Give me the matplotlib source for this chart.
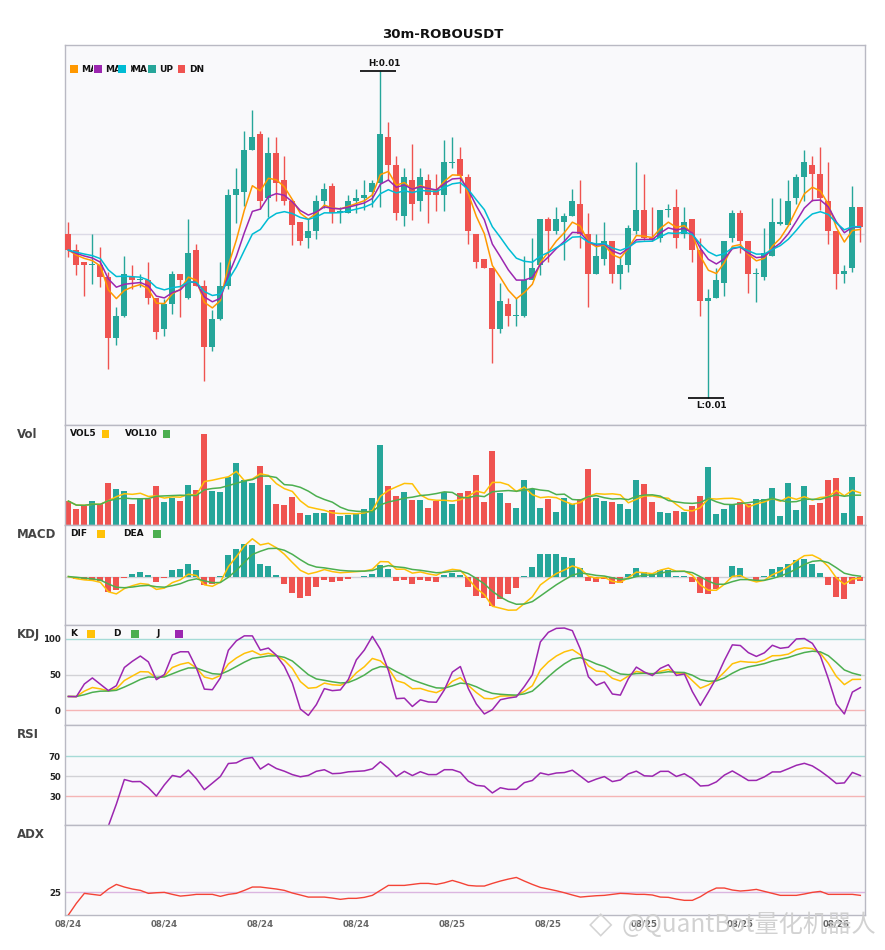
import numpy as np
import pandas as pd
import matplotlib
matplotlib.use("Agg")
import matplotlib.pyplot as plt
from matplotlib.patches import Rectangle

# ---------------- data ----------------
symbol = "30m-ROBOUSDT"
start_time = "2025-08-24 00:00"

open_ = [0.010000, 0.009904, 0.009830, 0.009814, 0.009814, 0.009744, 0.009378, 0.009508, 0.009740, 0.009722,
         0.009724, 0.009618, 0.009430, 0.009578, 0.009760, 0.009614, 0.009904, 0.009688, 0.009324, 0.009490,
         0.009688, 0.010234, 0.010254, 0.010504, 0.010600, 0.010216, 0.010486, 0.010324, 0.010198, 0.010072,
         0.009978, 0.010018, 0.010198, 0.010288, 0.010130, 0.010124, 0.010198, 0.010216, 0.010254, 0.010306,
         0.010582, 0.010414, 0.010108, 0.010324, 0.010198, 0.010324, 0.010268, 0.010234, 0.010428, 0.010450,
         0.010342, 0.010000, 0.009850, 0.009794, 0.009430, 0.009580, 0.009506, 0.009508, 0.009724, 0.009814,
         0.010090, 0.010020, 0.010072, 0.010108, 0.010180, 0.010000, 0.009760, 0.009850, 0.009958, 0.009760,
         0.009814, 0.010020, 0.010144, 0.009978, 0.009974, 0.010142, 0.010160, 0.010000, 0.010090, 0.009904,
         0.009598, 0.009618, 0.009708, 0.009978, 0.010124, 0.009958, 0.009758, 0.009744, 0.009868, 0.010060,
         0.010054, 0.010214, 0.010342, 0.010414, 0.010360, 0.010198, 0.010020, 0.009760, 0.009798, 0.010160]

high = [0.010072, 0.009940, 0.009830, 0.010000, 0.009920, 0.009774, 0.009560, 0.009868, 0.009812, 0.009760,
        0.009830, 0.009618, 0.009608, 0.009780, 0.009760, 0.010090, 0.009940, 0.009724, 0.009544, 0.009830,
        0.010270, 0.010398, 0.010618, 0.010744, 0.010618, 0.010582, 0.010582, 0.010468, 0.010198, 0.010072,
        0.010088, 0.010234, 0.010306, 0.010306, 0.010160, 0.010234, 0.010270, 0.010324, 0.010324, 0.010978,
        0.010672, 0.010468, 0.010396, 0.010540, 0.010396, 0.010360, 0.010360, 0.010564, 0.010582, 0.010522,
        0.010360, 0.010000, 0.009850, 0.009794, 0.009704, 0.009614, 0.009614, 0.009868, 0.009974, 0.010090,
        0.010104, 0.010160, 0.010128, 0.010270, 0.010324, 0.010124, 0.010000, 0.010072, 0.009958, 0.009868,
        0.010054, 0.010430, 0.010360, 0.010160, 0.010144, 0.010180, 0.010270, 0.010160, 0.010090, 0.009974,
        0.009668, 0.009794, 0.009958, 0.010144, 0.010144, 0.009958, 0.009794, 0.010034, 0.010214, 0.010214,
        0.010324, 0.010360, 0.010504, 0.010468, 0.010522, 0.010432, 0.010020, 0.009814, 0.010288, 0.010160]

low = [0.009864, 0.009754, 0.009628, 0.009700, 0.009684, 0.009190, 0.009334, 0.009504, 0.009668, 0.009684,
       0.009578, 0.009370, 0.009390, 0.009520, 0.009504, 0.009608, 0.009688, 0.009120, 0.009298, 0.009484,
       0.009668, 0.010068, 0.010168, 0.010504, 0.010148, 0.010104, 0.010198, 0.010174, 0.009934, 0.009934,
       0.009918, 0.009972, 0.010154, 0.010068, 0.010068, 0.010124, 0.010124, 0.010144, 0.010160, 0.010160,
       0.010324, 0.010084, 0.010050, 0.010084, 0.010138, 0.010068, 0.010138, 0.010138, 0.010394, 0.010248,
       0.009940, 0.009794, 0.009794, 0.009228, 0.009408, 0.009448, 0.009448, 0.009504, 0.009754, 0.009754,
       0.009834, 0.010000, 0.009844, 0.010108, 0.009918, 0.009560, 0.009760, 0.009814, 0.009704, 0.009668,
       0.009774, 0.010000, 0.009964, 0.009958, 0.009954, 0.010104, 0.009918, 0.009974, 0.009830, 0.009508,
       0.009014, 0.009614, 0.009628, 0.009954, 0.009884, 0.009648, 0.009594, 0.009724, 0.009868, 0.010054,
       0.010054, 0.010180, 0.010198, 0.010198, 0.010144, 0.009938, 0.009668, 0.009704, 0.009774, 0.009954]

close = [0.009904, 0.009814, 0.009814, 0.009814, 0.009744, 0.009378, 0.009508, 0.009760, 0.009724, 0.009726,
         0.009618, 0.009414, 0.009578, 0.009760, 0.009724, 0.009886, 0.009688, 0.009324, 0.009490, 0.009688,
         0.010234, 0.010270, 0.010504, 0.010582, 0.010198, 0.010486, 0.010308, 0.010198, 0.010054, 0.009960,
         0.010018, 0.010198, 0.010270, 0.010124, 0.010140, 0.010198, 0.010216, 0.010234, 0.010306, 0.010600,
         0.010414, 0.010128, 0.010342, 0.010180, 0.010342, 0.010234, 0.010234, 0.010432, 0.010432, 0.010348,
         0.010020, 0.009834, 0.009794, 0.009430, 0.009598, 0.009508, 0.009510, 0.009724, 0.009798, 0.010090,
         0.010020, 0.010090, 0.010108, 0.010198, 0.010000, 0.009760, 0.009868, 0.009958, 0.009760, 0.009814,
         0.010034, 0.010144, 0.009978, 0.009964, 0.010144, 0.010146, 0.009978, 0.010072, 0.009904, 0.009598,
         0.009614, 0.009724, 0.009958, 0.010124, 0.009958, 0.009760, 0.009762, 0.009884, 0.010072, 0.010072,
         0.010198, 0.010342, 0.010432, 0.010360, 0.010214, 0.010020, 0.009760, 0.009778, 0.010160, 0.010040]

volume = [70, 46, 56, 70, 60, 124, 106, 100, 61, 76,
          76, 115, 67, 80, 70, 118, 103, 271, 100, 97,
          142, 184, 133, 124, 175, 118, 61, 58, 82, 34,
          28, 34, 34, 43, 25, 28, 31, 46, 79, 238,
          115, 85, 97, 73, 73, 49, 70, 97, 61, 94,
          100, 148, 67, 220, 94, 64, 49, 133, 106, 49,
          76, 37, 79, 61, 76, 166, 80, 70, 67, 61,
          46, 133, 121, 67, 37, 34, 40, 37, 55, 85,
          172, 31, 46, 58, 67, 61, 76, 76, 109, 25,
          124, 43, 115, 58, 64, 133, 139, 34, 142, 25]
volume = [vv * 1000 for vv in volume]

adx = [0.0, 12.9, 23.9, 22.8, 21.7, 28.7, 33.8, 30.9, 28.7, 27.2,
       23.9, 24.6, 25.0, 22.8, 20.9, 21.7, 22.8, 22.8, 22.8, 20.6,
       22.8, 23.9, 27.2, 30.9, 30.9, 29.8, 28.7, 27.2, 24.3, 22.1,
       19.8, 19.8, 19.8, 18.7, 17.3, 18.4, 18.4, 19.5, 21.7, 27.2,
       32.7, 32.7, 32.7, 33.8, 34.9, 34.9, 33.8, 35.6, 38.2, 35.6,
       32.7, 32.0, 32.0, 34.9, 37.5, 39.7, 41.5, 37.5, 33.8, 30.5,
       28.7, 26.8, 24.6, 22.1, 19.8, 20.6, 21.3, 21.7, 22.8, 23.9,
       23.5, 22.8, 22.8, 22.1, 19.8, 19.5, 17.6, 16.2, 16.2, 20.2,
       25.7, 29.8, 29.8, 27.6, 26.5, 27.2, 28.3, 26.1, 23.9, 21.7,
       21.7, 21.7, 23.2, 25.0, 26.1, 22.8, 22.8, 22.8, 22.8, 21.7]

# indicator periods
ma_spans = [5, 8, 13]
vol_windows = [5, 10]
macd_fast, macd_slow, macd_signal = 6, 13, 5
kdj_n = 9
rsi_n = 14

# ---------------- derived indicators ----------------
o = pd.Series(open_); h = pd.Series(high); l = pd.Series(low); c = pd.Series(close)
v = pd.Series(volume)
n = len(c)
x = np.arange(n)
times = pd.date_range(start_time, periods=n, freq="30min")

mas = [c.ewm(span=s, adjust=False).mean() for s in ma_spans]
vol5 = v.rolling(vol_windows[0], min_periods=1).mean()
vol10 = v.rolling(vol_windows[1], min_periods=1).mean()

dif = c.ewm(span=macd_fast, adjust=False).mean() - c.ewm(span=macd_slow, adjust=False).mean()
dea = dif.ewm(span=macd_signal, adjust=False).mean()
hist = 2 * (dif - dea)

llv = l.rolling(kdj_n, min_periods=1).min()
hhv = h.rolling(kdj_n, min_periods=1).max()
rsv = (c - llv) / (hhv - llv) * 100
K = rsv.ewm(alpha=1 / 3, adjust=False).mean()
D = K.ewm(alpha=1 / 3, adjust=False).mean()
J = 3 * K - 2 * D

delta = c.diff()
gain = delta.clip(lower=0)
loss = -delta.clip(upper=0)
ag = gain.ewm(com=rsi_n - 1, adjust=True).mean()
al = loss.ewm(com=rsi_n - 1, adjust=True).mean()
rsi = 100 * ag / (ag + al)

# ---------------- styling ----------------
UP = "#26a69a"
DN = "#ef5350"
BG = "#f9f9fb"
SPINE = "#b9b9c3"
W, H = 885, 950

fig = plt.figure(figsize=(W / 100, H / 100), dpi=100)
fig.patch.set_facecolor("white")

L_px, R_px = 65, 865
bounds = [(45, 424.5), (424.5, 524.5), (524.5, 624.5), (624.5, 724.5), (724.5, 824.5), (824.5, 915)]
axes = []
for top, bot in bounds:
    ax = fig.add_axes([L_px / W, 1 - bot / H, (R_px - L_px) / W, (bot - top) / H])
    ax.set_facecolor(BG)
    ax.set_xlim(-0.42, n - 0.42)
    for s in ax.spines.values():
        s.set_color(SPINE)
        s.set_linewidth(1.0)
    ax.tick_params(length=0, labelsize=6.2, pad=3)
    ax.set_xticks([])
    axes.append(ax)
axp, axv, axm, axk, axr, axa = axes

colors = [UP if cc >= oo else DN for oo, cc in zip(open_, close)]

# ---- price panel ----
lo, hi = min(low), max(high)
rng = hi - lo
axp.set_ylim(lo - 0.08 * rng, hi + 0.08 * rng)
axp.set_yticks([0.0100])
axp.set_yticklabels([])
axp.grid(axis="y", color="#dcdae6", lw=1.0)
axp.set_axisbelow(True)
px_price = (1.16 * rng) / 380.0
body_bottom = np.minimum(o, c)
body_h = np.maximum(np.abs(c - o), px_price * 1.2)
axp.vlines(x, l, h, colors=colors, lw=1.0, zorder=2)
axp.bar(x, body_h, bottom=body_bottom, width=0.75, color=colors, edgecolor="none", zorder=3)
for ma, col in zip(mas, ["#ff9800", "#9c27b0", "#00bcd4"]):
    axp.plot(x, ma, color=col, lw=1.1, zorder=4)

imax = int(np.argmax(high)); imin = int(np.argmin(low))
axp.hlines(hi, imax - 2.5, imax + 2.0, color="black", lw=1.2, zorder=5)
axp.annotate(f"H:{hi:.2f}", (imax + 0.5, hi), xytext=(0, 2), textcoords="offset points",
             ha="center", va="bottom", fontsize=6.3, fontweight="bold", color="#111")
axp.hlines(lo, imin - 2.5, imin + 1.9, color="black", lw=1.2, zorder=5)
axp.annotate(f"L:{lo:.2f}", (imin + 0.4, lo), xytext=(0, -2), textcoords="offset points",
             ha="center", va="top", fontsize=6.3, fontweight="bold", color="#111")

# ---- volume ----
axv.bar(x, v, width=0.75, color=colors, edgecolor="none", zorder=2)
axv.plot(x, vol5, color="#ffc107", lw=1.1, zorder=3)
axv.plot(x, vol10, color="#4caf50", lw=1.1, zorder=3)
axv.set_ylim(0, v.max() * 1.103)
axv.set_yticks([])

# ---- MACD ----
mcolors = [UP if hv >= 0 else DN for hv in hist]
axm.axhline(0, color="#d0d0d6", lw=1.0, zorder=1)
axm.bar(x, hist, width=0.75, color=mcolors, edgecolor="none", zorder=2)
axm.plot(x, dif, color="#ffc107", lw=1.1, zorder=3)
axm.plot(x, dea, color="#4caf50", lw=1.1, zorder=3)
mlo = min(dif.min(), dea.min(), hist.min()); mhi = max(dif.max(), dea.max(), hist.max())
mr = mhi - mlo
axm.set_ylim(mlo - 0.2 * mr, mhi + 0.2 * mr)
axm.set_yticks([])

# ---- KDJ ----
axk.axhline(100, color="#a6dbd7", lw=1.0, zorder=1)
axk.axhline(50, color="#d2d2d6", lw=1.0, zorder=1)
axk.axhline(0, color="#f5b5b5", lw=1.0, zorder=1)
axk.plot(x, K, color="#ffc107", lw=1.1, zorder=3)
axk.plot(x, D, color="#4caf50", lw=1.1, zorder=3)
axk.plot(x, J, color="#9c27b0", lw=1.1, zorder=3)
axk.set_ylim(-20, 120)
axk.set_yticks([0, 50, 100])

# ---- RSI ----
axr.axhline(70, color="#a6dbd7", lw=1.0, zorder=1)
axr.axhline(50, color="#d2d2d6", lw=1.0, zorder=1)
axr.axhline(30, color="#f5b5b5", lw=1.0, zorder=1)
axr.plot(x, rsi, color="#9c27b0", lw=1.1, zorder=2)
axr.set_ylim(1.5, 101.5)
axr.set_yticks([30, 50, 70])

# ---- ADX ----
axa.axhline(25, color="#dbb6e0", lw=1.0, zorder=1)
axa.plot(x, adx, color="#f44336", lw=1.0, zorder=3)
axa.set_ylim(0, 100)
axa.set_yticks([25])

for ax in (axk, axr, axa):
    for t in ax.get_yticklabels():
        t.set_fontweight("bold")
        t.set_color("#222")

tick_idx = list(range(0, n, 12))
axa.set_xticks(tick_idx)
axa.set_xticklabels([times[i].strftime("%m/%d") for i in tick_idx],
                    fontsize=6.2, fontweight="bold", color="#666")
axa.tick_params(axis="x", length=0, pad=3)

# ---------------- text, legends ----------------
def fx(px):
    return px / W

def fy(py):
    return 1 - py / H

fig.text(fx(443), fy(34), symbol, ha="center", va="center", fontsize=9.5, fontweight="bold", color="#111")

for lab, py in [("Vol", 434.5), ("MACD", 534.5), ("KDJ", 634.5), ("RSI", 734.5), ("ADX", 835)]:
    fig.text(fx(17), fy(py), lab, ha="left", va="center", fontsize=8.5, fontweight="bold", color="#444")

def square(px, py, color, w=7.7):
    fig.patches.append(Rectangle((fx(px), fy(py + w / 2)), w / W, w / H, transform=fig.transFigure,
                                 facecolor=color, edgecolor="none", zorder=7))

def cover(px0, px1, py, hgt=12):
    fig.patches.append(Rectangle((fx(px0), fy(py + hgt / 2)), (px1 - px0) / W, hgt / H,
                                 transform=fig.transFigure, facecolor=BG, edgecolor="none", zorder=6))

def label(px, py, s):
    fig.text(fx(px), fy(py), s, ha="left", va="center", fontsize=6.5, fontweight="bold",
             color="#111", zorder=5)

# price legend (labels partly hidden under the following swatches, as in the reference)
py = 69
label(81.3, py, "MA5"); label(105.3, py, "MA10"); label(131.3, py, "MA20")
label(159.3, py, "UP"); label(189, py, "DN")
cover(93.3, 104.8, py); cover(117.5, 130.8, py); cover(147.0, 158.8, py)
square(70, py, "#ff9800"); square(94.3, py, "#9c27b0"); square(118.3, py, "#00bcd4")
square(148.3, py, UP); square(177.7, py, DN)

py = 433.7
label(70, py, "VOL5"); square(101.7, py, "#ffc107")
label(125, py, "VOL10"); square(162.7, py, "#4caf50")

py = 533.7
label(70, py, "DIF"); square(97.3, py, "#ffc107")
label(123.3, py, "DEA"); square(153.3, py, "#4caf50")

py = 633.7
label(70, py, "K"); square(87.3, py, "#ffc107")
label(113.3, py, "D"); square(131, py, "#4caf50")
label(156.7, py, "J"); square(175, py, "#9c27b0")

# watermark
fig.text(fx(601), fy(925), "◇", ha="center", va="center", fontsize=22, color="#d4d4d4",
         family=["DejaVu Sans"])
fig.text(fx(622), fy(925), "@QuantBot量化机器人", ha="left", va="center", fontsize=17.5,
         color="#cdcdcd", family=["Noto Sans CJK SC", "DejaVu Sans"], alpha=0.9)

fig.savefig("out.png", dpi=100, facecolor="white")
